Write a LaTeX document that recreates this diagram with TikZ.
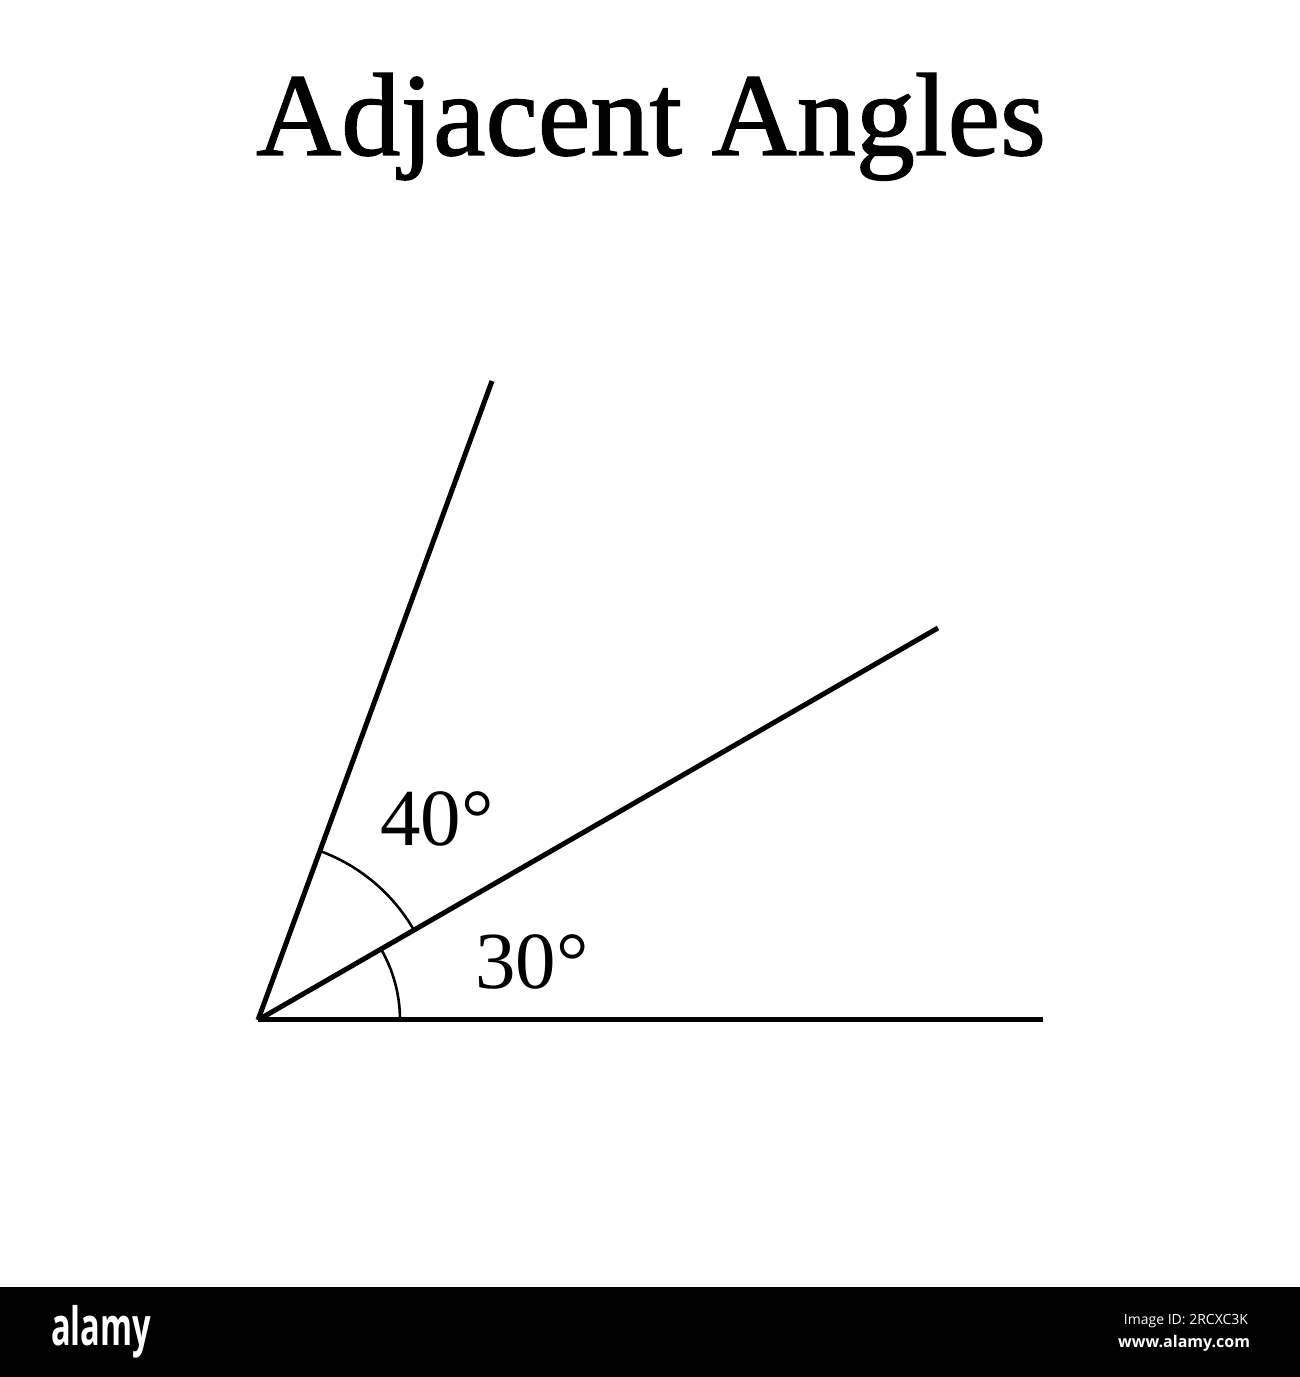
\documentclass[tikz,border=0pt]{standalone}
\usepackage{fontspec}
\setmainfont{Liberation Serif}
\newfontfamily\titlefont{Liberation Serif}[FakeBold=1.2]
\newfontfamily\barfont{Open Sans}
\usetikzlibrary{positioning}

\begin{document}
\begin{tikzpicture}[
  x=0.5pt, y=0.5pt,
  ray/.style={draw=black, line width=2.5pt, line cap=butt},
  anglearc/.style={draw=black, line width=1.3pt},
  every node/.style={
    inner sep=0pt,
    outer sep=0pt,
  }
]
\useasboundingbox (0,0) rectangle (1300,1377);

% title
\node[anchor=base, font=\titlefont\fontsize{59}{64}\selectfont] (title) at (651,1222) {Adjacent Angles};

% vertex and ray ends
\coordinate (o) at (258,357);
\coordinate (a) at (1043,357);
\coordinate (b) at (938,749);
\coordinate (c) at (492,996);

\draw[ray] (o) -- (a);
\draw[ray] (o) -- (b);
\draw[ray] (o) -- (c);

% angle marks
\draw[anglearc] (o) ++(0:142) arc[start angle=0, end angle=30, radius=142];
\draw[anglearc] (o) ++(30:180) arc[start angle=30, end angle=70, radius=180];

\node[font=\fontsize{40.5}{44}\selectfont] (top) at (437,558) {40°};
\node[font=\fontsize{40.5}{44}\selectfont] (low) at (532,415) {30°};

% stock bar
\fill[black] (0,0) rectangle (1300,90);
\node[anchor=base west, text=white] (logo) at (51,32)
  {\scalebox{0.68}[1.1]{\barfont\bfseries\fontsize{24}{26}\selectfont alamy}};
\node[anchor=base east, text=white, font=\barfont\fontsize{7}{8}\selectfont] (imgid) at (1248,53) {Image ID: 2RCXC3K};
\node[anchor=base east, text=white, font=\barfont\bfseries\fontsize{8}{9}\selectfont] (site) at (1250,30) {www.alamy.com};

\end{tikzpicture}
\end{document}
